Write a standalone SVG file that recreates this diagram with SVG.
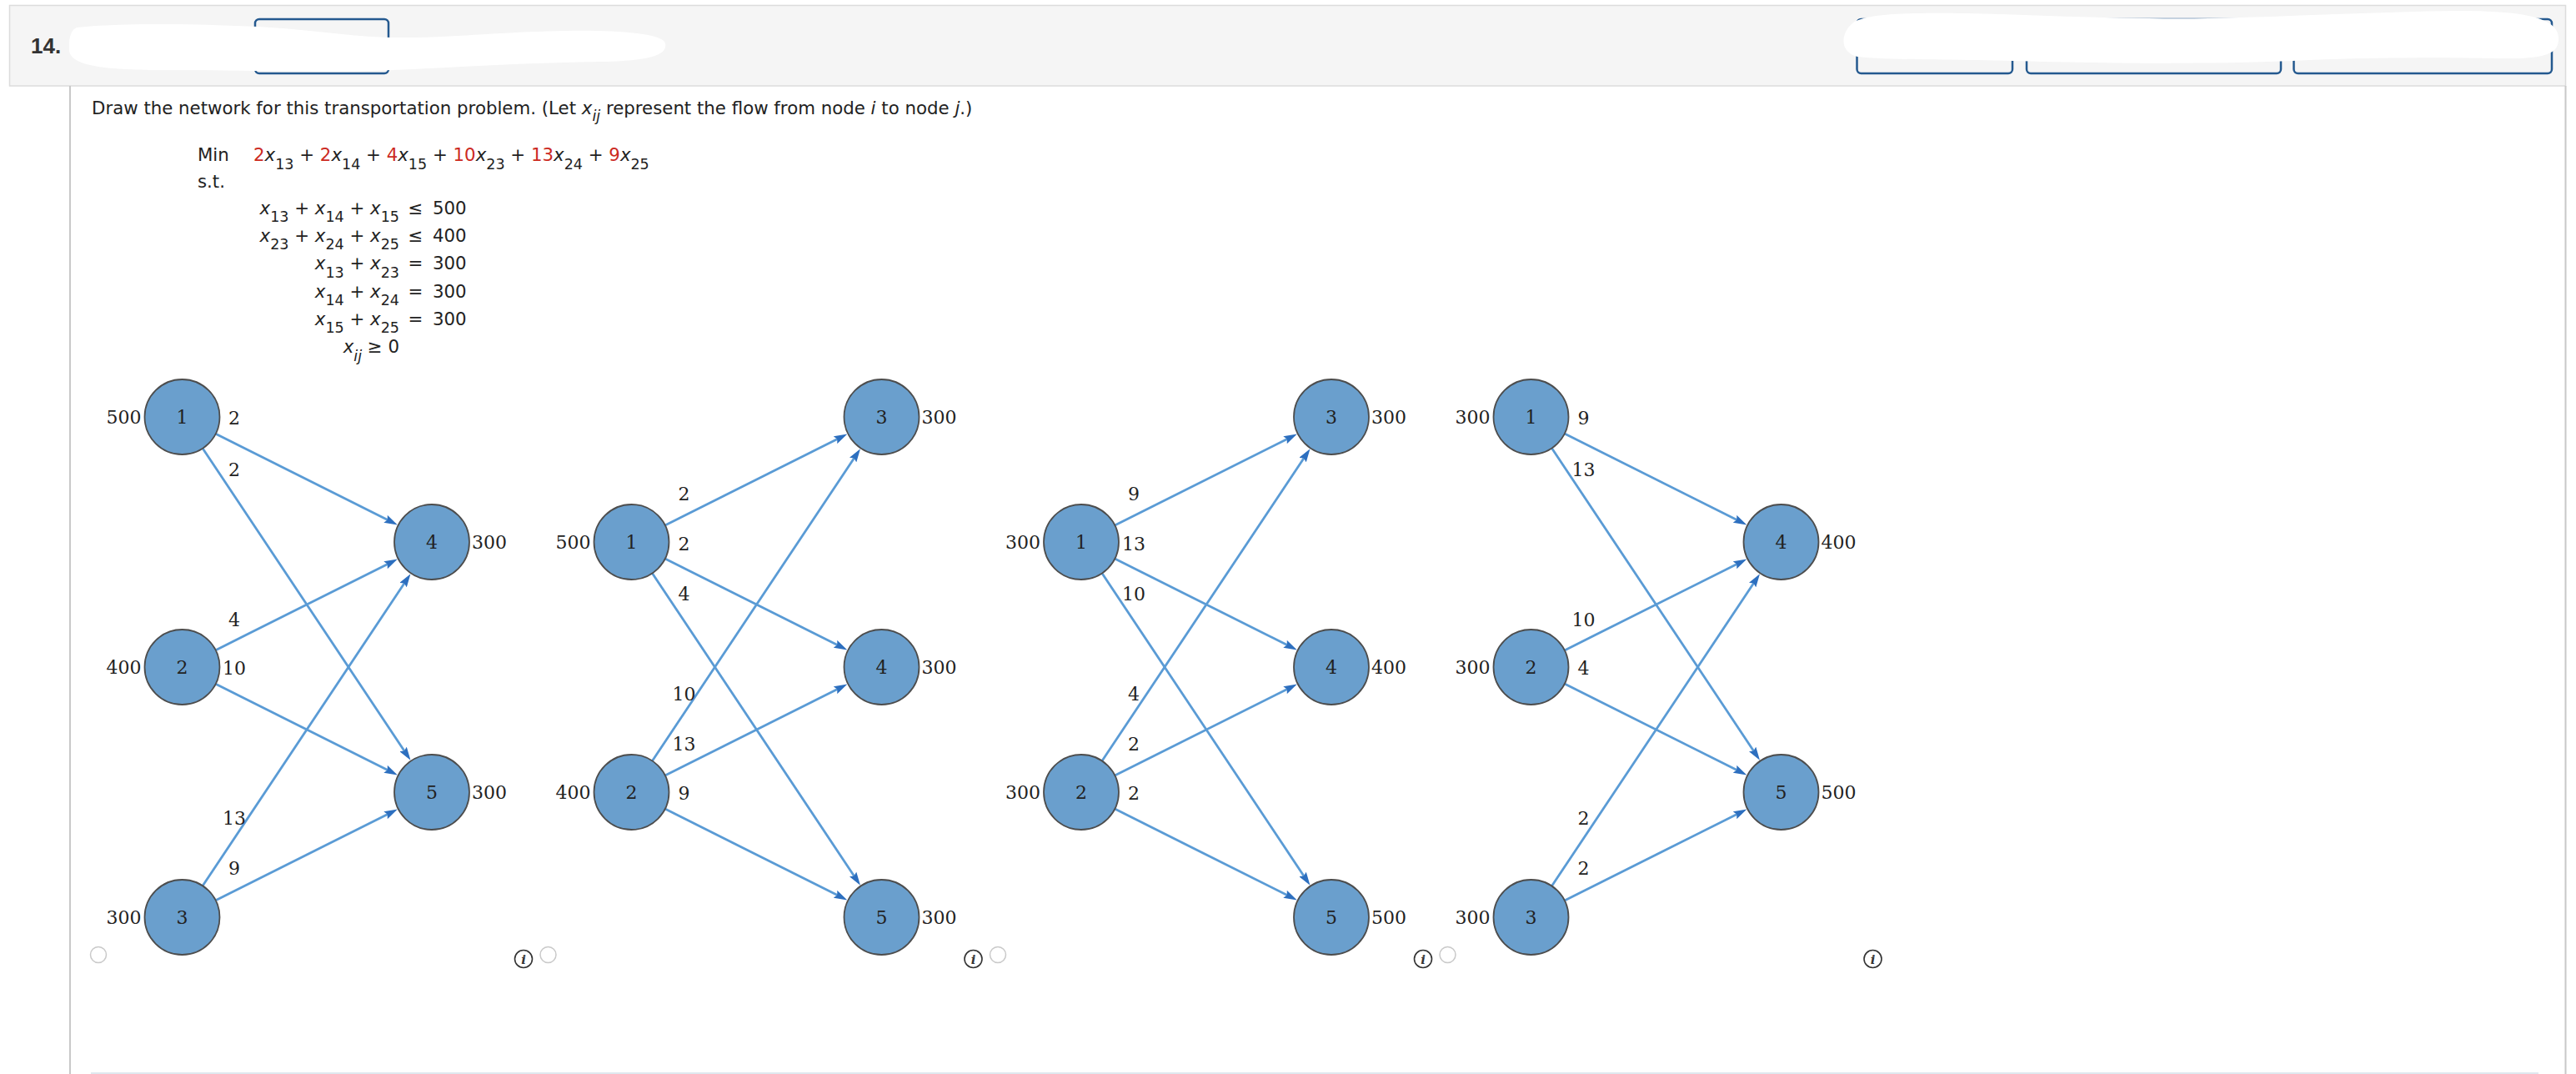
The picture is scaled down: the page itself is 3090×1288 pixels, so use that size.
<svg xmlns="http://www.w3.org/2000/svg" width="3090" height="1288" viewBox="0 0 3090 1288">
<style>
.hdr{fill:#f5f5f5;stroke:#dcdcdc;stroke-width:1.5}
.btn{fill:#f5f5f5;stroke:#24598f;stroke-width:2.5}
.blob{fill:#ffffff;stroke:none}
.vline{stroke:#c8c8c8;stroke-width:2}
.t{font-family:"DejaVu Sans",Verdana,sans-serif;font-size:21.3px;fill:#222}
.i{font-style:italic}
.sb{font-size:17.5px}
.r{fill:#cc2a1f}
.node circle{fill:#6a9fcd;stroke:#4d4d4d;stroke-width:1.8}
.nl{font-family:"DejaVu Serif",serif;font-size:22px;fill:#222;text-anchor:middle}
.lab{font-family:"DejaVu Serif",serif;font-size:22px;fill:#222}
.el{font-family:"DejaVu Serif",serif;font-size:22px;fill:#222;text-anchor:middle}
.end{text-anchor:end}
.edge line{stroke:#5a9bd5;stroke-width:2.8;marker-end:url(#arr)}
.radio{fill:#fff;stroke:#c9c9c9;stroke-width:1.5}
.info circle{fill:#fff;stroke:#333;stroke-width:1.6}
.info text{font-family:"DejaVu Serif",serif;font-style:italic;font-weight:bold;font-size:15px;fill:#333;text-anchor:middle}
</style>
<defs>
<marker id="arr" viewBox="0 0 16 10" refX="10" refY="5" markerWidth="16" markerHeight="10" markerUnits="userSpaceOnUse" orient="auto">
<path d="M0,0 L16,5 L0,10 L2.5,5 Z" fill="#2d6fbf"/>
</marker>
</defs>
<rect width="3090" height="1288" fill="#ffffff"/>
<!-- header -->
<g id="header">
<rect class="hdr" x="11.5" y="6.5" width="3066" height="96.5"/>
<text x="37" y="64" font-family="'Liberation Sans',Arial,sans-serif" font-weight="bold" font-size="26" fill="#333">14.</text>
<rect class="btn" x="306" y="23" width="160" height="65" rx="5"/>
<rect class="btn" x="2227.5" y="23" width="186.5" height="65" rx="5"/>
<rect class="btn" x="2431" y="23" width="305" height="65" rx="5"/>
<rect class="btn" x="2751.5" y="23" width="309.5" height="65" rx="5"/>
<path class="blob" d="M92,33 C150,27 240,29 310,32 C370,35 420,44 470,45 C540,46 600,38 680,37 C740,36 795,40 798,52 C801,66 780,73 720,74 C640,75 560,80 470,84 C390,88 300,84 200,84 C130,84 84,80 83,60 C82,44 86,35 92,33 Z"/>
<path class="blob" d="M2222,28 C2240,14 2310,15 2400,17 C2480,20 2560,23 2650,22 C2750,20 2850,14 2950,13 C3030,13 3068,22 3069,45 C3070,64 3055,71 3000,70 C2900,68 2800,70 2750,73 C2650,77 2550,76 2450,74 C2350,71 2260,72 2228,68 C2206,62 2208,40 2222,28 Z"/>
</g>
<g id="frame">
<line class="vline" x1="84" y1="103" x2="84" y2="1288"/>
<line class="vline" x1="3077.5" y1="103" x2="3077.5" y2="1288"/>
<line x1="109" y1="1287" x2="3045" y2="1287" stroke="#dfe8ef" stroke-width="2"/>
</g>
<!-- question text -->
<g id="question">
<text class="t" x="110" y="137">Draw the network for this transportation problem. (Let <tspan class="i">x</tspan><tspan class="i sb" dy="8">ij</tspan><tspan dy="-8"> represent the flow from node </tspan><tspan class="i">i</tspan> to node <tspan class="i">j</tspan>.)</text>
<text class="t" x="237" y="193.3">Min</text>
<text class="t" x="237" y="225">s.t.</text>
<text class="t" x="304" y="193.3"><tspan class="r">2</tspan><tspan class="i">x</tspan><tspan class="sb" dy="9.4">13</tspan><tspan dy="-9.4"> + </tspan><tspan class="r">2</tspan><tspan class="i">x</tspan><tspan class="sb" dy="9.4">14</tspan><tspan dy="-9.4"> + </tspan><tspan class="r">4</tspan><tspan class="i">x</tspan><tspan class="sb" dy="9.4">15</tspan><tspan dy="-9.4"> + </tspan><tspan class="r">10</tspan><tspan class="i">x</tspan><tspan class="sb" dy="9.4">23</tspan><tspan dy="-9.4"> + </tspan><tspan class="r">13</tspan><tspan class="i">x</tspan><tspan class="sb" dy="9.4">24</tspan><tspan dy="-9.4"> + </tspan><tspan class="r">9</tspan><tspan class="i">x</tspan><tspan class="sb" dy="9.4">25</tspan></text>
<text class="t end" x="479" y="256.7"><tspan class="i">x</tspan><tspan class="sb" dy="9.4">13</tspan><tspan dy="-9.4"> + </tspan><tspan class="i">x</tspan><tspan class="sb" dy="9.4">14</tspan><tspan dy="-9.4"> + </tspan><tspan class="i">x</tspan><tspan class="sb" dy="9.4">15</tspan></text>
<text class="t end" x="479" y="290"><tspan class="i">x</tspan><tspan class="sb" dy="9.4">23</tspan><tspan dy="-9.4"> + </tspan><tspan class="i">x</tspan><tspan class="sb" dy="9.4">24</tspan><tspan dy="-9.4"> + </tspan><tspan class="i">x</tspan><tspan class="sb" dy="9.4">25</tspan></text>
<text class="t end" x="479" y="323.3"><tspan class="i">x</tspan><tspan class="sb" dy="9.4">13</tspan><tspan dy="-9.4"> + </tspan><tspan class="i">x</tspan><tspan class="sb" dy="9.4">23</tspan></text>
<text class="t end" x="479" y="356.7"><tspan class="i">x</tspan><tspan class="sb" dy="9.4">14</tspan><tspan dy="-9.4"> + </tspan><tspan class="i">x</tspan><tspan class="sb" dy="9.4">24</tspan></text>
<text class="t end" x="479" y="390"><tspan class="i">x</tspan><tspan class="sb" dy="9.4">15</tspan><tspan dy="-9.4"> + </tspan><tspan class="i">x</tspan><tspan class="sb" dy="9.4">25</tspan></text>
<text class="t end" x="479" y="423.3"><tspan class="i">x</tspan><tspan class="i sb" dy="9.4">ij</tspan><tspan dy="-9.4"> ≥ 0</tspan></text>
<text class="t" x="498.5" y="256.7" text-anchor="middle">≤</text>
<text class="t" x="498.5" y="290" text-anchor="middle">≤</text>
<text class="t" x="498.5" y="323.3" text-anchor="middle">=</text>
<text class="t" x="498.5" y="356.7" text-anchor="middle">=</text>
<text class="t" x="498.5" y="390" text-anchor="middle">=</text>
<text class="t" x="519" y="256.7">500</text>
<text class="t" x="519" y="290">400</text>
<text class="t" x="519" y="323.3">300</text>
<text class="t" x="519" y="356.7">300</text>
<text class="t" x="519" y="390">300</text>
</g>
<!-- connectors -->
<g id="connectors" class="edge">
<line x1="258.25" y1="520.12" x2="471.49" y2="626.74"/>
<line x1="242.96" y1="537.44" x2="489.16" y2="906.73"/>
<line x1="258.25" y1="779.88" x2="471.49" y2="673.26"/>
<line x1="258.25" y1="820.12" x2="471.49" y2="926.74"/>
<line x1="242.96" y1="1062.56" x2="489.16" y2="693.27"/>
<line x1="258.25" y1="1079.88" x2="471.49" y2="973.26"/>
<line x1="797.75" y1="629.88" x2="1010.99" y2="523.26"/>
<line x1="797.75" y1="670.12" x2="1010.99" y2="776.74"/>
<line x1="782.46" y1="687.44" x2="1028.66" y2="1056.73"/>
<line x1="782.46" y1="912.56" x2="1028.66" y2="543.27"/>
<line x1="797.75" y1="929.88" x2="1010.99" y2="823.26"/>
<line x1="797.75" y1="970.12" x2="1010.99" y2="1076.74"/>
<line x1="1337.25" y1="629.88" x2="1550.49" y2="523.26"/>
<line x1="1337.25" y1="670.12" x2="1550.49" y2="776.74"/>
<line x1="1321.96" y1="687.44" x2="1568.16" y2="1056.73"/>
<line x1="1321.96" y1="912.56" x2="1568.16" y2="543.27"/>
<line x1="1337.25" y1="929.88" x2="1550.49" y2="823.26"/>
<line x1="1337.25" y1="970.12" x2="1550.49" y2="1076.74"/>
<line x1="1876.75" y1="520.12" x2="2089.99" y2="626.74"/>
<line x1="1861.46" y1="537.44" x2="2107.66" y2="906.73"/>
<line x1="1876.75" y1="779.88" x2="2089.99" y2="673.26"/>
<line x1="1876.75" y1="820.12" x2="2089.99" y2="926.74"/>
<line x1="1861.46" y1="1062.56" x2="2107.66" y2="693.27"/>
<line x1="1876.75" y1="1079.88" x2="2089.99" y2="973.26"/>
</g>
<!-- edge labels -->
<g id="edge-labels" class="el">
<text class="el" x="281" y="508.5">2</text><text class="el" x="281" y="570.5">2</text><text class="el" x="281" y="750.5">4</text><text class="el" x="281" y="808.5">10</text><text class="el" x="281" y="988.5">13</text><text class="el" x="281" y="1048.5">9</text>
<text class="el" x="820.5" y="599.5">2</text><text class="el" x="820.5" y="659.5">2</text><text class="el" x="820.5" y="719.5">4</text><text class="el" x="820.5" y="840">10</text><text class="el" x="820.5" y="899.5">13</text><text class="el" x="820.5" y="958.5">9</text>
<text class="el" x="1360" y="599.5">9</text><text class="el" x="1360" y="659.5">13</text><text class="el" x="1360" y="719.5">10</text><text class="el" x="1360" y="840">4</text><text class="el" x="1360" y="899.5">2</text><text class="el" x="1360" y="958.5">2</text>
<text class="el" x="1899.5" y="508.5">9</text><text class="el" x="1899.5" y="570.5">13</text><text class="el" x="1899.5" y="750.5">10</text><text class="el" x="1899.5" y="808.5">4</text><text class="el" x="1899.5" y="988.5">2</text><text class="el" x="1899.5" y="1048.5">2</text>
</g>
<!-- diagram 1 nodes -->
<g id="d1-n1" class="node"><circle cx="218.5" cy="500" r="45"/><text class="nl" x="218.5" y="507.5">1</text><text class="lab end" x="169.5" y="507.5">500</text></g>
<g id="d1-n2" class="node"><circle cx="218.5" cy="800" r="45"/><text class="nl" x="218.5" y="807.5">2</text><text class="lab end" x="169.5" y="807.5">400</text></g>
<g id="d1-n3" class="node"><circle cx="218.5" cy="1100" r="45"/><text class="nl" x="218.5" y="1107.5">3</text><text class="lab end" x="169.5" y="1107.5">300</text></g>
<g id="d1-n4" class="node"><circle cx="518" cy="650" r="45"/><text class="nl" x="518" y="657.5">4</text><text class="lab" x="566" y="657.5">300</text></g>
<g id="d1-n5" class="node"><circle cx="518" cy="950" r="45"/><text class="nl" x="518" y="957.5">5</text><text class="lab" x="566" y="957.5">300</text></g>
<!-- diagram 2 nodes -->
<g id="d2-n1" class="node"><circle cx="757.5" cy="650" r="45"/><text class="nl" x="757.5" y="657.5">1</text><text class="lab end" x="708.5" y="657.5">500</text></g>
<g id="d2-n2" class="node"><circle cx="757.5" cy="950" r="45"/><text class="nl" x="757.5" y="957.5">2</text><text class="lab end" x="708.5" y="957.5">400</text></g>
<g id="d2-n3" class="node"><circle cx="1057.5" cy="500" r="45"/><text class="nl" x="1057.5" y="507.5">3</text><text class="lab" x="1105.5" y="507.5">300</text></g>
<g id="d2-n4" class="node"><circle cx="1057.5" cy="800" r="45"/><text class="nl" x="1057.5" y="807.5">4</text><text class="lab" x="1105.5" y="807.5">300</text></g>
<g id="d2-n5" class="node"><circle cx="1057.5" cy="1100" r="45"/><text class="nl" x="1057.5" y="1107.5">5</text><text class="lab" x="1105.5" y="1107.5">300</text></g>
<!-- diagram 3 nodes -->
<g id="d3-n1" class="node"><circle cx="1297" cy="650" r="45"/><text class="nl" x="1297" y="657.5">1</text><text class="lab end" x="1248" y="657.5">300</text></g>
<g id="d3-n2" class="node"><circle cx="1297" cy="950" r="45"/><text class="nl" x="1297" y="957.5">2</text><text class="lab end" x="1248" y="957.5">300</text></g>
<g id="d3-n3" class="node"><circle cx="1597" cy="500" r="45"/><text class="nl" x="1597" y="507.5">3</text><text class="lab" x="1645" y="507.5">300</text></g>
<g id="d3-n4" class="node"><circle cx="1597" cy="800" r="45"/><text class="nl" x="1597" y="807.5">4</text><text class="lab" x="1645" y="807.5">400</text></g>
<g id="d3-n5" class="node"><circle cx="1597" cy="1100" r="45"/><text class="nl" x="1597" y="1107.5">5</text><text class="lab" x="1645" y="1107.5">500</text></g>
<!-- diagram 4 nodes -->
<g id="d4-n1" class="node"><circle cx="1836.5" cy="500" r="45"/><text class="nl" x="1836.5" y="507.5">1</text><text class="lab end" x="1787.5" y="507.5">300</text></g>
<g id="d4-n2" class="node"><circle cx="1836.5" cy="800" r="45"/><text class="nl" x="1836.5" y="807.5">2</text><text class="lab end" x="1787.5" y="807.5">300</text></g>
<g id="d4-n3" class="node"><circle cx="1836.5" cy="1100" r="45"/><text class="nl" x="1836.5" y="1107.5">3</text><text class="lab end" x="1787.5" y="1107.5">300</text></g>
<g id="d4-n4" class="node"><circle cx="2136.5" cy="650" r="45"/><text class="nl" x="2136.5" y="657.5">4</text><text class="lab" x="2184.5" y="657.5">400</text></g>
<g id="d4-n5" class="node"><circle cx="2136.5" cy="950" r="45"/><text class="nl" x="2136.5" y="957.5">5</text><text class="lab" x="2184.5" y="957.5">500</text></g>
<!-- radios and info icons -->
<g id="radios">
<circle class="radio" cx="118" cy="1145" r="9.5"/>
<circle class="radio" cx="657.5" cy="1145" r="9.5"/>
<circle class="radio" cx="1197" cy="1145" r="9.5"/>
<circle class="radio" cx="1736.5" cy="1145" r="9.5"/>
</g>
<g id="info1" class="info"><circle cx="628" cy="1150" r="10.5"/><text x="628" y="1155.5">i</text></g>
<g id="info2" class="info"><circle cx="1167.5" cy="1150" r="10.5"/><text x="1167.5" y="1155.5">i</text></g>
<g id="info3" class="info"><circle cx="1707" cy="1150" r="10.5"/><text x="1707" y="1155.5">i</text></g>
<g id="info4" class="info"><circle cx="2246.5" cy="1150" r="10.5"/><text x="2246.5" y="1155.5">i</text></g>
</svg>
